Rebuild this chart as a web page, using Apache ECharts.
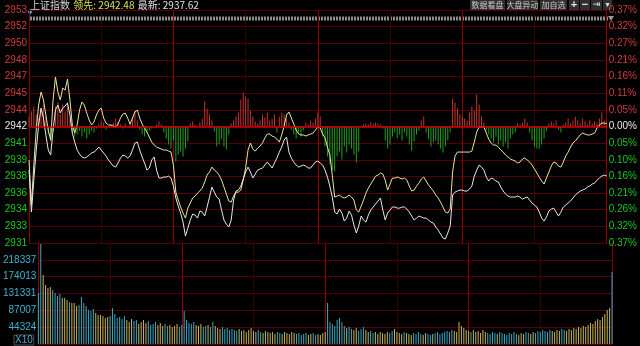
<!DOCTYPE html>
<html><head><meta charset="utf-8">
<script src="https://cdn.jsdelivr.net/npm/echarts@6/dist/echarts.min.js"></script>
<style>html,body{margin:0;padding:0;background:#000;}#c{width:640px;height:346px;}</style>
</head><body><div id="c"></div>
<script>
const preClose = 2942.22;
const priceStep = 1.55;
const leftLabels = ['2931','2933','2934','2936','2938','2939','2941','2942','2944','2945','2947','2948','2950','2952','2953'];
const rightLabels = ['0.37%','0.32%','0.26%','0.21%','0.16%','0.10%','0.05%','0.00%','0.05%','0.11%','0.16%','0.21%','0.27%','0.32%','0.37%'];
const volLabels = ['','44324','87007','131331','174013','218337',''];
const volStep = 43500;
const headerName = '上证指数';

const indexPrice = [2938.16,2934.25,2937.23,2940.03,2942.36,2943.94,2943.01,2941.43,2940.03,2939.56,
2941.89,2943.75,2944.22,2943.47,2943.94,2944.13,2944.41,2943.29,2941.61,2940.77,
2940.03,2939.65,2939.38,2939.28,2939.38,2939.56,2939.75,2939.84,2940.03,2940.31,
2940.03,2939.75,2939.47,2939.10,2938.82,2938.54,2938.44,2938.82,2939.28,2939.56,
2939.47,2939.28,2939.47,2940.03,2940.68,2940.77,2940.03,2939.38,2938.82,2938.16,
2938.35,2939.10,2939.38,2938.16,2937.42,2937.42,2937.51,2937.51,2937.60,2937.42,
2936.67,2935.56,2934.81,2934.16,2933.32,2932.02,2932.76,2933.51,2934.07,2933.97,
2933.69,2934.35,2934.25,2933.88,2934.72,2935.65,2936.58,2936.11,2935.65,2935.46,
2934.44,2933.51,2933.13,2932.86,2933.51,2935.37,2936.21,2936.30,2936.67,2937.33,
2937.98,2938.44,2937.98,2937.42,2937.79,2938.16,2938.26,2938.35,2938.63,2938.91,
2938.63,2938.35,2938.82,2939.28,2939.84,2940.31,2940.96,2941.24,2939.84,2939.28,
2938.91,2938.63,2938.44,2938.54,2938.63,2938.54,2938.35,2938.35,2938.63,2938.91,
2939.00,2938.82,2938.63,2938.16,2937.51,2936.67,2935.65,2934.25,2934.07,2934.53,
2934.16,2933.41,2933.69,2934.35,2933.97,2933.04,2932.30,2932.95,2933.88,2933.51,
2933.32,2933.97,2934.44,2934.72,2935.00,2935.28,2935.56,2934.44,2933.51,2934.16,
2934.44,2934.72,2934.72,2934.62,2934.62,2934.72,2934.72,2934.53,2934.25,2933.88,
2933.51,2933.69,2933.88,2933.79,2933.69,2933.69,2933.51,2933.32,2933.23,2932.86,
2932.58,2932.20,2931.83,2931.74,2932.30,2932.95,2935.84,2936.11,2936.21,2936.30,
2936.30,2936.21,2936.21,2936.39,2936.67,2937.60,2938.16,2938.63,2938.44,2938.16,
2937.51,2937.14,2937.42,2937.33,2937.14,2937.05,2936.58,2936.21,2935.93,2935.74,
2935.65,2935.65,2935.65,2935.74,2935.65,2935.46,2935.56,2935.65,2935.37,2935.09,
2934.90,2934.72,2934.25,2933.69,2933.41,2933.79,2934.35,2934.53,2934.62,2934.25,
2933.88,2934.25,2934.72,2934.90,2935.09,2935.28,2935.56,2935.84,2936.02,2936.21,
2936.30,2936.39,2936.58,2936.67,2936.86,2936.95,2937.23,2937.42,2937.60,2937.70,
2937.62];

const leadPrice = [2939.10,2934.90,2938.63,2941.89,2944.22,2945.43,2944.69,2943.29,2941.89,2940.96,
2944.69,2946.83,2945.43,2944.69,2945.80,2945.61,2946.64,2944.69,2942.36,2941.61,
2942.36,2943.75,2944.50,2944.22,2943.47,2942.82,2942.36,2942.64,2943.29,2943.75,
2943.94,2943.01,2942.54,2942.36,2942.36,2942.26,2942.17,2942.45,2943.01,2943.38,
2943.47,2943.01,2942.45,2943.01,2943.57,2943.75,2943.01,2942.45,2942.08,2941.70,
2941.24,2940.77,2940.49,2940.31,2940.21,2940.12,2940.03,2940.03,2939.93,2939.84,
2938.63,2936.11,2935.37,2934.72,2934.16,2933.69,2934.62,2935.09,2935.56,2935.74,
2936.02,2936.21,2936.49,2937.05,2937.70,2937.98,2938.44,2938.16,2937.98,2937.70,
2937.23,2936.58,2935.93,2935.28,2935.18,2935.74,2936.11,2936.11,2936.30,2937.23,
2938.35,2940.03,2940.68,2940.12,2939.93,2940.21,2940.40,2940.68,2941.15,2941.52,
2941.52,2941.33,2941.24,2941.05,2940.77,2941.43,2942.26,2943.29,2943.57,2943.01,
2942.45,2941.89,2941.52,2941.43,2941.43,2941.33,2941.43,2941.52,2941.61,2941.89,
2942.17,2942.08,2941.52,2941.15,2940.31,2939.56,2937.70,2935.65,2935.74,2935.84,
2935.65,2935.56,2935.65,2935.84,2935.65,2935.37,2934.44,2934.25,2934.81,2935.37,
2936.02,2936.49,2936.86,2937.23,2937.60,2937.70,2937.88,2937.79,2937.23,2936.30,
2936.86,2937.42,2937.42,2937.51,2937.42,2937.33,2937.42,2937.23,2936.67,2936.21,
2936.30,2936.67,2936.95,2937.33,2937.51,2937.14,2936.77,2936.49,2936.21,2935.84,
2935.56,2935.18,2934.72,2934.25,2934.16,2934.53,2937.98,2939.47,2939.84,2939.84,
2939.84,2939.84,2939.84,2939.84,2939.93,2940.77,2941.70,2942.17,2942.17,2942.17,
2941.61,2941.05,2940.68,2940.49,2940.49,2940.31,2940.03,2939.84,2939.56,2939.38,
2939.19,2939.10,2939.00,2938.82,2938.91,2939.19,2939.28,2939.10,2938.91,2938.63,
2938.26,2937.88,2937.51,2937.14,2936.86,2937.42,2937.98,2938.54,2938.91,2938.82,
2938.54,2938.44,2938.91,2939.47,2939.84,2940.31,2940.68,2940.87,2941.15,2941.43,
2941.61,2941.52,2941.43,2941.43,2941.52,2941.61,2942.08,2942.36,2942.54,2942.54,
2942.48];

const force = [10,15,20,12,8,18,22,10,-8,-15,
-5,20,24,12,22,15,24,8,-6,-10,
-8,-4,-10,-6,-12,-8,-4,-6,-2,3,
6,4,-3,0,2,4,8,5,2,-2,
3,0,4,10,16,6,-3,-8,-10,-6,
-4,-2,0,2,5,2,-6,-12,-18,-22,
-14,-35,-28,-25,-30,-22,-15,3,5,2,
0,4,8,25,18,12,6,-5,-20,-18,
-12,-20,-23,-8,3,6,10,14,27,34,
30,28,16,10,5,3,6,12,9,14,
6,8,12,-6,10,14,12,8,4,-3,
-8,-12,-6,-10,-4,4,2,6,4,8,
14,10,-10,-20,-30,-38,-44,-45,-30,-25,
-33,-20,-26,-18,-22,-28,-36,-25,1,2,
3,2,4,3,4,3,2,-2,-14,-22,
-18,-10,-6,-12,-8,-14,-6,-10,-18,-24,
-15,-8,-4,6,10,-6,-12,-20,-16,-14,
-18,-22,-26,-20,-14,-6,28,24,18,12,
10,8,6,14,20,16,32,22,10,4,
-4,-8,-12,-16,-10,-18,-14,-20,-16,-22,
-12,-8,-6,3,2,4,8,4,-6,-14,
-20,-22,-22,-18,-12,-4,3,5,3,6,
-3,-6,2,4,8,3,6,10,6,3,
8,5,2,6,3,5,4,8,14,6,
5];

const volume = [131800,258500,178400,152500,144800,147300,139600,131800,124100,129300,
118900,118900,113700,108600,106000,106000,98200,100800,121500,106000,
98200,87900,85300,90500,80100,75000,75000,72400,67200,69800,
72400,93100,77600,67200,69800,64600,72400,62000,56900,64600,
59500,62000,51700,56900,62000,54300,59500,49100,51700,56900,
49100,54300,46500,51700,46500,49100,43900,46500,51700,43900,
49100,85300,62000,54300,51700,56900,49100,46500,51700,43900,
46500,49100,43900,56900,46500,41400,38800,43900,38800,41400,
36200,38800,36200,33600,38800,33600,36200,31000,36200,41400,
33600,31000,36200,31000,28400,33600,31000,28400,31000,25900,
31000,28400,25900,31000,28400,25900,31000,28400,25900,28400,
23300,25900,28400,23300,25900,28400,23300,25900,23300,28400,
31000,106000,56900,51700,46500,62000,67200,56900,46500,41400,
43900,38800,36200,41400,33600,38800,43900,36200,31000,33600,
28400,31000,25900,31000,28400,25900,31000,28400,33600,38800,
31000,28400,25900,31000,28400,25900,23300,28400,25900,31000,
25900,23300,28400,25900,23300,25900,28400,31000,25900,28400,
31000,33600,31000,36200,33600,31000,56900,46500,41400,36200,
33600,31000,36200,31000,33600,28400,36200,31000,28400,25900,
31000,28400,25900,31000,28400,25900,23300,28400,25900,31000,
25900,23300,28400,25900,31000,28400,25900,31000,28400,33600,
31000,36200,33600,31000,36200,33600,31000,36200,33600,38800,
36200,33600,38800,36200,41400,38800,43900,41400,46500,43900,
49100,54300,51700,59500,64600,62000,69800,77600,87900,93100,
186100];

const times = [];
function hm(m){const h=Math.floor(m/60),mm=m%60;return (h<10?'0':'')+h+':'+(mm<10?'0':'')+mm;}
for(let m=570;m<=690;m++) times.push(hm(m));
for(let m=781;m<=900;m++) times.push(hm(m));

const pMin = +(preClose - 7*priceStep).toFixed(2);
const pMax = +(preClose + 7*priceStep).toFixed(2);
const FONT = 'Liberation Sans, Arial, sans-serif';
const CJK = 'Noto Sans CJK SC, sans-serif';

const vGridColors = ['#8c0000','#3a0000'];
function xAxisCfg(gi){
  return {type:'category', gridIndex:gi, data:times, boundaryGap:false,
    axisLine:{show:false}, axisTick:{show:false}, axisLabel:{show:false},
    splitLine:{show:true, interval:function(i){return i%30===0;}, lineStyle:{color:vGridColors,width:1}}};
}
function idxOf(v){return Math.round((v-pMin)/priceStep);}

const chart = echarts.init(document.getElementById('c'), null, {renderer:'canvas'});
chart.setOption({
  backgroundColor:'#000',
  animation:false,
  grid:[{left:29,right:28,top:10,height:233},{left:29,right:28,top:243,height:101}],
  xAxis:[xAxisCfg(0), xAxisCfg(1)],
  yAxis:[
    {type:'value', gridIndex:0, position:'left', min:pMin, max:pMax, interval:priceStep,
     axisLine:{show:true, lineStyle:{color:'#8c0000'}}, axisTick:{show:false},
     splitLine:{show:true, lineStyle:{color:'#560000',width:1}},
     axisLabel:{margin:2, fontFamily:FONT, fontSize:10,
       formatter:function(v){const i=idxOf(v);const t=leftLabels[i]||'';return i>7?'{r|'+t+'}':(i===7?'{w|'+t+'}':'{g|'+t+'}');},
       rich:{r:{color:'#d23c3c',fontFamily:FONT,fontSize:10},w:{color:'#e8e8e8',fontFamily:FONT,fontSize:10},g:{color:'#1ec81e',fontFamily:FONT,fontSize:10}}}},
    {type:'value', gridIndex:0, position:'right', min:pMin, max:pMax, interval:priceStep,
     axisLine:{show:true, lineStyle:{color:'#8c0000'}}, axisTick:{show:false}, splitLine:{show:false},
     axisLabel:{margin:2, fontFamily:FONT, fontSize:10,
       formatter:function(v){const i=idxOf(v);const t=rightLabels[i]||'';return i>7?'{r|'+t+'}':(i===7?'{w|'+t+'}':'{g|'+t+'}');},
       rich:{r:{color:'#d23c3c',fontFamily:FONT,fontSize:10},w:{color:'#e8e8e8',fontFamily:FONT,fontSize:10},g:{color:'#1ec81e',fontFamily:FONT,fontSize:10}}}},
    {type:'value', gridIndex:0, min:-116.5, max:116.5, show:false, splitLine:{show:false}},
    {type:'value', gridIndex:1, position:'left', min:0, max:6*volStep, interval:volStep,
     axisLine:{show:true, lineStyle:{color:'#8c0000'}}, axisTick:{show:false},
     splitLine:{show:true, lineStyle:{color:'#560000',width:1}},
     axisLabel:{margin:2, color:'#3cb4d2', fontFamily:FONT, fontSize:10,
       formatter:function(v){return volLabels[Math.round(v/volStep)]||'';}}},
    {type:'value', gridIndex:1, position:'right', min:0, max:6*volStep, interval:volStep,
     axisLine:{show:true, lineStyle:{color:'#8c0000'}}, axisTick:{show:false}, splitLine:{show:false}, axisLabel:{show:false}}
  ],
  series:[
    {type:'bar', xAxisIndex:0, yAxisIndex:2, data:force, barWidth:1, silent:true,
     itemStyle:{color:function(p){return p.value>=0?'#c83232':'#1ea01e';}},
     markLine:{silent:true, symbol:'none', label:{show:false}, lineStyle:{color:'#d20000',width:1.5,type:'solid'}, data:[{yAxis:0}]}},
    {type:'line', xAxisIndex:0, yAxisIndex:0, data:leadPrice, showSymbol:false, silent:true,
     lineStyle:{color:'#e6e69a',width:1}},
    {type:'line', xAxisIndex:0, yAxisIndex:0, data:indexPrice, showSymbol:false, silent:true,
     lineStyle:{color:'#e8e8e8',width:1}},
    {type:'bar', xAxisIndex:1, yAxisIndex:3, data:volume, barWidth:1, silent:true,
     itemStyle:{color:function(p){const i=p.dataIndex;const prev=i===0?preClose:indexPrice[i-1];return indexPrice[i]>=prev?'#c8b45a':'#3ca8c0';}}}
  ],
  graphic:[
    {type:'text', x:30, y:5, style:{
      text:'{a|'+headerName+'} {b|领先: '+leadPrice[leadPrice.length-1].toFixed(2)+'} {c|最新: '+indexPrice[indexPrice.length-1].toFixed(2)+'}',
      verticalAlign:'middle',
      rich:{a:{fill:'#d8d8d8',fontSize:10,fontFamily:CJK},b:{fill:'#e0e050',fontSize:10,fontFamily:CJK},c:{fill:'#e0e0e0',fontSize:10,fontFamily:CJK}}}},
    {type:'line', shape:{x1:30,y1:18.5,x2:609,y2:18.5}, style:{stroke:'#8c8c8c',lineWidth:4,lineDash:[2,1]}},
    {type:'polygon', shape:{points:[[30,9.5],[32.5,12],[30,14.5],[27.5,12]]}, style:{fill:'#3cb4e6'}},
    {type:'polygon', shape:{points:[[608,16],[614,16],[611,21]]}, style:{fill:'#9a9a9a'}},
    {type:'group', children:[
      {type:'rect', shape:{x:470,y:0,width:35,height:10}, style:{fill:'#303030'}},
      {type:'text', x:487.5, y:5, style:{text:'数据看盘',fill:'#c8c8c8',fontSize:8,fontFamily:CJK,align:'center',verticalAlign:'middle'}},
      {type:'rect', shape:{x:507,y:0,width:31,height:10}, style:{fill:'#303030'}},
      {type:'text', x:522.5, y:5, style:{text:'大盘异动',fill:'#c8c8c8',fontSize:8,fontFamily:CJK,align:'center',verticalAlign:'middle'}},
      {type:'rect', shape:{x:540,y:0,width:27,height:10}, style:{fill:'#303030'}},
      {type:'text', x:553.5, y:5, style:{text:'加自选',fill:'#c8c8c8',fontSize:8,fontFamily:CJK,align:'center',verticalAlign:'middle'}},
      {type:'rect', shape:{x:569,y:0,width:10,height:10}, style:{fill:'#303030'}},
      {type:'text', x:574, y:5, style:{text:'+',fill:'#e0e0e0',fontSize:11,fontWeight:'bold',fontFamily:FONT,align:'center',verticalAlign:'middle'}},
      {type:'rect', shape:{x:580,y:0,width:10,height:10}, style:{fill:'#303030'}},
      {type:'text', x:585, y:5, style:{text:'−',fill:'#e0e0e0',fontSize:11,fontWeight:'bold',fontFamily:FONT,align:'center',verticalAlign:'middle'}},
      {type:'rect', shape:{x:591,y:0,width:11,height:10}, style:{fill:'#303030'}},
      {type:'text', x:596.5, y:5, style:{text:'⇥',fill:'#e0e0e0',fontSize:9,fontFamily:'DejaVu Sans',align:'center',verticalAlign:'middle'}},
      {type:'rect', shape:{x:603,y:0,width:9,height:10}, style:{fill:'#303030'}},
      {type:'text', x:607.5, y:5, style:{text:'▾',fill:'#e0e0e0',fontSize:8,fontFamily:'DejaVu Sans',align:'center',verticalAlign:'middle'}}
    ]},
    {type:'text', x:14, y:335, style:{text:'X10',fill:'#3cb4d2',fontSize:10,fontFamily:FONT,borderColor:'#505050',borderWidth:1,padding:[0,1,0,1]}}
  ]
});
</script>
</body></html>
